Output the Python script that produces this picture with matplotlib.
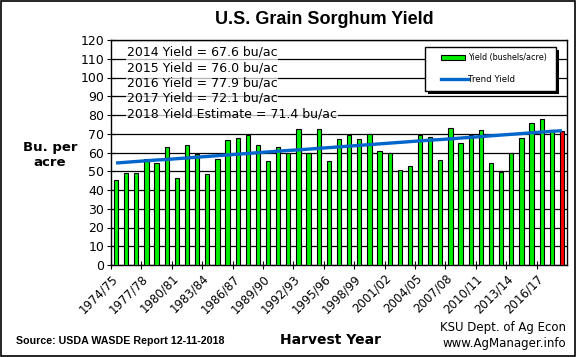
#!/usr/bin/env python3

import numpy as np
import matplotlib
matplotlib.use("Agg")
import matplotlib.pyplot as plt
from matplotlib.patches import Rectangle

# Harvest years 1974/75 .. 2018/19
years = list(range(1974, 2019))
yields = [45.1, 49.0, 49.0, 56.6, 54.5, 62.7, 46.3, 64.0, 59.1, 48.7,
          56.4, 66.8, 67.7, 69.4, 63.8, 55.4, 63.1, 59.9, 72.6, 59.9,
          72.7, 55.6, 67.3, 69.2, 67.3, 69.7, 60.9, 59.9, 50.6, 52.7,
          69.6, 68.5, 56.1, 73.2, 65.0, 69.4, 71.8, 54.6, 49.6, 59.6,
          67.6, 76.0, 77.9, 72.1, 71.4]
trend = [54.4, 54.8, 55.2, 55.6, 56.0, 56.3, 56.7, 57.1, 57.5, 57.9,
         58.3, 58.7, 59.1, 59.5, 59.9, 60.3, 60.7, 61.1, 61.4, 61.8,
         62.2, 62.6, 63.0, 63.4, 63.8, 64.2, 64.6, 65.0, 65.4, 65.8,
         66.2, 66.6, 66.9, 67.3, 67.7, 68.1, 68.5, 68.9, 69.3, 69.7,
         70.1, 70.5, 70.9, 71.3, 71.6]
notes = ["2014 Yield = 67.6 bu/ac",
         "2015 Yield = 76.0 bu/ac",
         "2016 Yield = 77.9 bu/ac",
         "2017 Yield = 72.1 bu/ac",
         "2018 Yield Estimate = 71.4 bu/ac"]
tick_years = years[:-1:3]
tick_labels = [f"{y}/{str(y + 1)[-2:]}" for y in tick_years]

fig = plt.figure(figsize=(5.76, 3.57), dpi=100)
fig.patch.set_facecolor("white")
ax = fig.add_axes([111 / 576, 92 / 357, 456 / 576, 225 / 357])

x = np.arange(len(years))
colors = ["#00ee00"] * (len(years) - 1) + ["#ff0000"]
ax.bar(x, yields, width=0.42, color=colors, edgecolor="black", linewidth=0.8, zorder=3)
ax.plot(x, trend, color="#0066cc", lw=2.4, zorder=4, solid_capstyle="butt")

ax.set_xlim(-0.5, len(years) - 0.5)
ax.set_ylim(0, 120)
ax.set_yticks(range(0, 121, 10))
ax.tick_params(axis="y", direction="inout", length=6, labelsize=9, pad=2)
ax.yaxis.grid(True, color="black", lw=0.9, zorder=0)
ax.set_axisbelow(True)

tick_pos = [years.index(y) - 0.5 for y in tick_years]
ax.set_xticks(tick_pos)
ax.set_xticklabels(tick_labels, rotation=45, ha="right", rotation_mode="anchor", fontsize=8.5)
ax.tick_params(axis="x", direction="inout", length=6, pad=2)
for s in ax.spines.values():
    s.set_color("black")
    s.set_linewidth(1)

for i, t in enumerate(notes):
    ax.text(0.035, 0.945 - i * 0.068, t, transform=ax.transAxes, fontsize=9,
            va="center", ha="left", zorder=5,
            bbox=dict(facecolor="white", edgecolor="none", alpha=0.7, pad=0.5))

# legend box
lx0, ly0, lw, lh = 425 / 576, 266 / 357, 131 / 576, 44 / 357
fig.patches.append(Rectangle((lx0 + 0.005, ly0 - 0.009), lw, lh, transform=fig.transFigure,
                             facecolor="black", edgecolor="none", zorder=5))
fig.patches.append(Rectangle((lx0, ly0), lw, lh, transform=fig.transFigure,
                             facecolor="white", edgecolor="black", lw=1, zorder=6))
fig.patches.append(Rectangle((441 / 576, 297 / 357), 24 / 576, 5 / 357, transform=fig.transFigure,
                             facecolor="#00ee00", edgecolor="black", lw=0.8, zorder=7))
fig.lines.append(plt.Line2D([441 / 576, 468 / 576], [278 / 357, 278 / 357], transform=fig.transFigure,
                            color="#0066cc", lw=2.4, zorder=7))
fig.text(468 / 576, 299.5 / 357, "Yield (bushels/acre)", fontsize=5.8, va="center", zorder=8)
fig.text(468 / 576, 278 / 357, "Trend Yield", fontsize=6.2, va="center", zorder=8)

fig.text(324 / 576, 337 / 357, "U.S. Grain Sorghum Yield", fontsize=13, fontweight="bold",
         ha="center", va="center", family="Liberation Sans")
fig.text(50 / 576, 202 / 357, "Bu. per\nacre", fontsize=9.5, fontweight="bold",
         ha="center", va="center", linespacing=1.3)
fig.text(330 / 576, 17 / 357, "Harvest Year", fontsize=10, fontweight="bold",
         ha="center", va="center")
fig.text(16 / 576, 16 / 357, "Source: USDA WASDE Report 12-11-2018", fontsize=7.7,
         fontweight="bold", ha="left", va="center", family="Liberation Sans")
fig.text(566 / 576, 29 / 357, "KSU Dept. of Ag Econ", fontsize=8.5, ha="right", va="center")
fig.text(566 / 576, 14 / 357, "www.AgManager.info", fontsize=8.5, ha="right", va="center")

fig.patches.append(Rectangle((0.001, 0.002), 0.997, 0.995, transform=fig.transFigure,
                             facecolor="none", edgecolor="black", lw=1.2, zorder=10))

fig.savefig("out.png", dpi=100)
